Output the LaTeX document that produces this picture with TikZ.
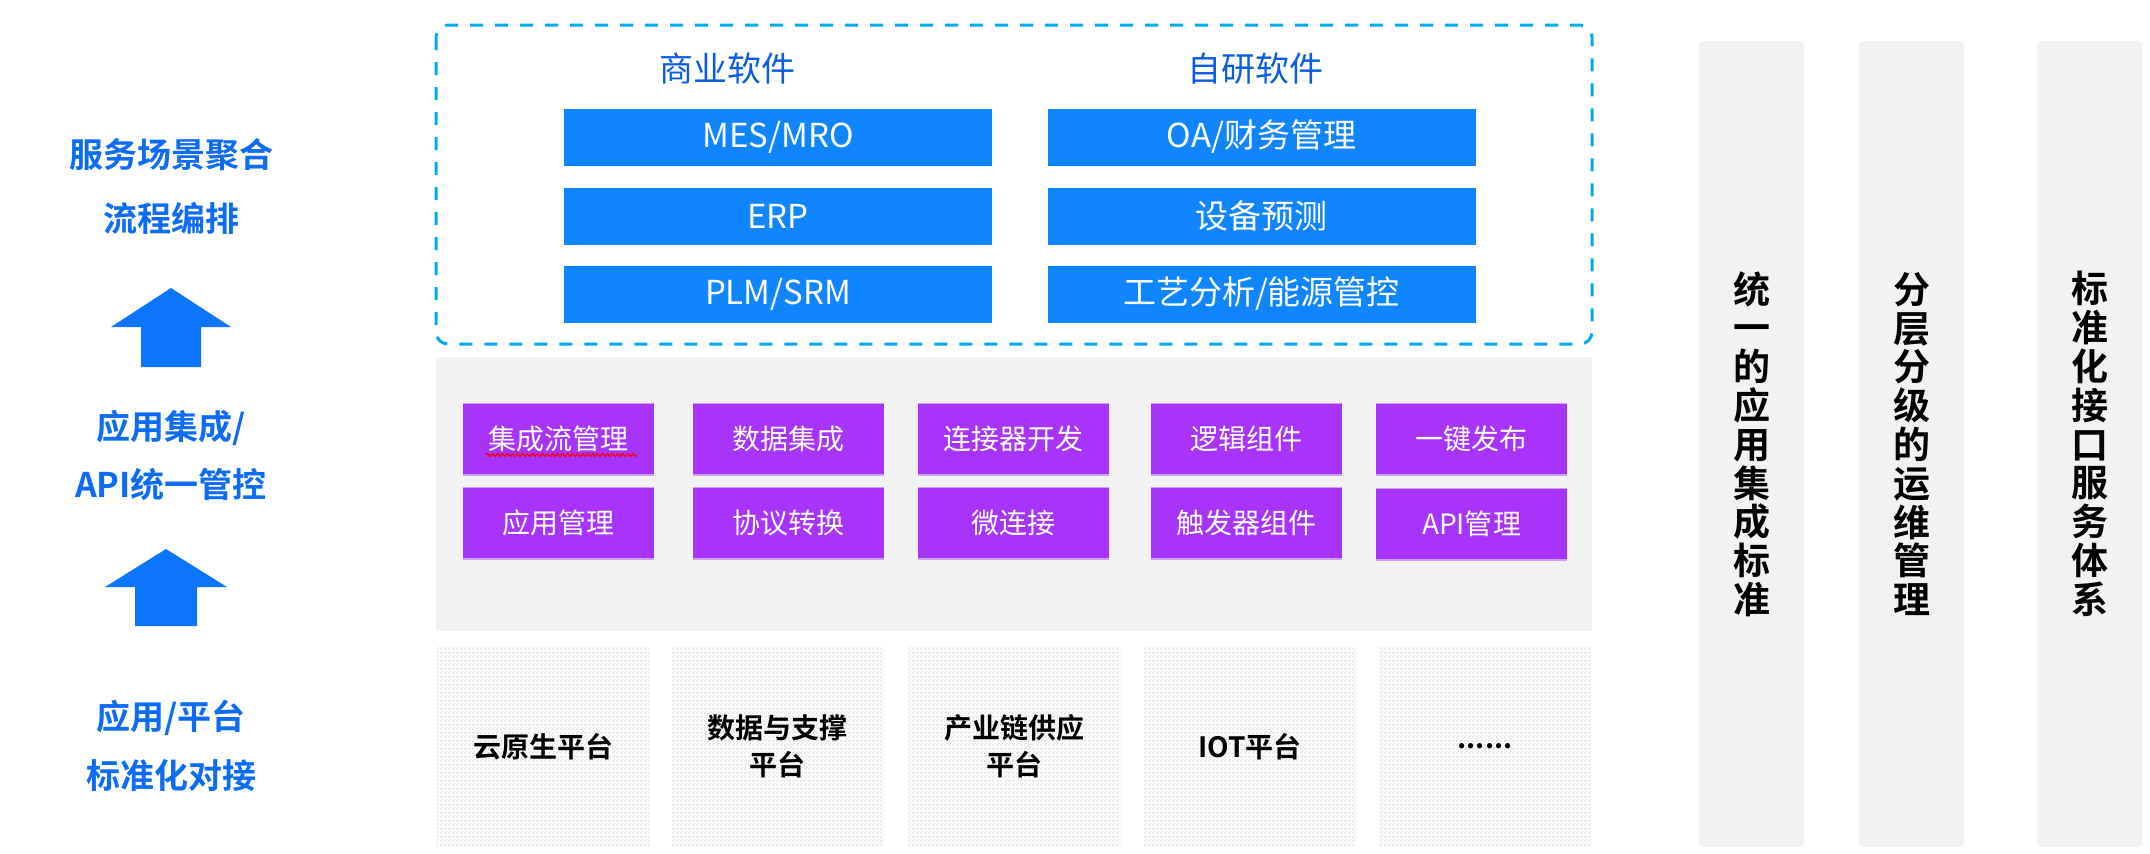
\documentclass[tikz,border=0pt]{standalone}
\usepackage{fontspec}
\setmainfont{Noto Sans CJK SC}[BoldFont={Noto Sans CJK SC Bold}]
\usepackage{tikz}
\usetikzlibrary{patterns}
\usetikzlibrary{decorations.pathmorphing}

\definecolor{boxblue}{RGB}{15,134,255}
\definecolor{arrowblue}{RGB}{11,117,255}
\definecolor{labelblue}{RGB}{12,108,245}
\definecolor{titleblue}{RGB}{10,92,228}
\definecolor{dashblue}{RGB}{0,170,240}
\definecolor{funcpurple}{RGB}{168,52,252}
\definecolor{funcedge}{RGB}{204,160,242}
\definecolor{panelgray}{RGB}{242,242,242}

\pgfdeclarepatternformonly{checker}{\pgfpointorigin}{\pgfqpoint{2pt}{2pt}}{\pgfqpoint{2pt}{2pt}}{%
\pgfpathrectangle{\pgfpointorigin}{\pgfqpoint{1pt}{1pt}}%
\pgfpathrectangle{\pgfqpoint{1pt}{1pt}}{\pgfqpoint{1pt}{1pt}}%
\pgfusepath{fill}}

\begin{document}
\begin{tikzpicture}[x=0.5pt,y=-0.5pt,
  bluebox/.style={fill=boxblue,text=white,minimum width=214pt,minimum height=28.5pt,inner sep=0pt,font=\fontsize{16.5}{18}\selectfont},
  funcbox/.style={fill=funcpurple,text=white,minimum width=95.5pt,minimum height=36pt,inner sep=0pt,font=\fontsize{14}{16}\selectfont,
    path picture={\draw[funcedge,line width=1pt] (path picture bounding box.north west) -- (path picture bounding box.north east);
                  \draw[funcedge,line width=1pt] (path picture bounding box.south west) -- (path picture bounding box.south east);}},
  basebox/.style={pattern=checker,pattern color=gray!22,minimum width=106.5pt,minimum height=99.5pt,inner sep=0pt,align=center,font=\fontsize{14}{18.5}\selectfont\bfseries},
  sidebar/.style={fill=panelgray,rounded corners=2pt,minimum width=52.5pt,minimum height=403pt,inner sep=0pt,align=center,font=\fontsize{18.5}{19.4}\selectfont\bfseries},
  sidelabel/.style={text=labelblue,inner sep=0pt,align=center,font=\fontsize{17}{30}\selectfont\bfseries},
  title/.style={text=titleblue,inner sep=0pt,font=\fontsize{17}{20}\selectfont}]
\useasboundingbox (0,0) rectangle (2150,853);

% left labels and arrows
\draw (171,187) node (scene) [sidelabel,font=\fontsize{17}{32}\selectfont\bfseries] {服务场景聚合\\流程编排};
\draw (171,455) node (integ) [sidelabel,font=\fontsize{17}{29}\selectfont\bfseries] {应用集成/\\API统一管控};
\draw (171,746) node (dock) [sidelabel,font=\fontsize{17}{29.5}\selectfont\bfseries] {应用/平台\\标准化对接};
\fill[arrowblue] (171,288) -- (231,327) -- (201,327) -- (201,367) -- (141,367) -- (141,327) -- (111,327) -- cycle;
\fill[arrowblue] (166,549) -- (227,587) -- (197,587) -- (197,626) -- (135,626) -- (135,587) -- (105,587) -- cycle;

% software layer
\draw[dashblue,line width=1.5pt,dash pattern=on 6.5pt off 6pt,rounded corners=6pt] (436,25) rectangle (1592,344);
\draw (727,69) node (biz) [title] {商业软件};
\draw (1255,69) node (own) [title] {自研软件};
\draw (778,137) node (mes) [bluebox] {MES/MRO};
\draw (778,216) node (erp) [bluebox] {ERP};
\draw (778,294) node (plm) [bluebox] {PLM/SRM};
\draw (1261.5,137) node (oa) [bluebox] {OA/财务管理};
\draw (1261.5,216) node (pred) [bluebox] {设备预测};
\draw (1261.5,294) node (proc) [bluebox] {工艺分析/能源管控};

% integration layer
\fill[panelgray] (436,357) rectangle (1592,631);
\draw (558,439) node (flow) [funcbox] {集成流管理};
\draw (788,439) node (data) [funcbox] {数据集成};
\draw (1013.5,439) node (conn) [funcbox] {连接器开发};
\draw (1246,439) node (logic) [funcbox] {逻辑组件};
\draw (1471.5,439) node (pub) [funcbox] {一键发布};
\draw (558,523) node (app) [funcbox] {应用管理};
\draw (788,523) node (proto) [funcbox] {协议转换};
\draw (1013.5,523) node (micro) [funcbox] {微连接};
\draw (1246,523) node (trig) [funcbox] {触发器组件};
\draw (1471.5,524) node (api) [funcbox] {API管理};
\draw[red,line width=0.6pt,decorate,decoration={snake,segment length=2.5pt,amplitude=0.7pt}] (486,455) -- (637,455);

% platform layer
\draw (543,746.5) node (cloud) [basebox] {云原生平台};
\draw (777.5,746.5) node (supp) [basebox] {数据与支撑\\平台};
\draw (1014,746.5) node (chain) [basebox] {产业链供应\\平台};
\draw (1250,746.5) node (iot) [basebox] {IOT平台};
\draw (1485,746.5) node (more) [basebox] {......};

% side bars
\draw (1751.5,444) node (std) [sidebar] {统\\一\\的\\应\\用\\集\\成\\标\\准};
\draw (1911.5,444) node (ops) [sidebar] {分\\层\\分\\级\\的\\运\\维\\管\\理};
\draw (2089.5,444) node (iface) [sidebar] {标\\准\\化\\接\\口\\服\\务\\体\\系};
\end{tikzpicture}
\end{document}
